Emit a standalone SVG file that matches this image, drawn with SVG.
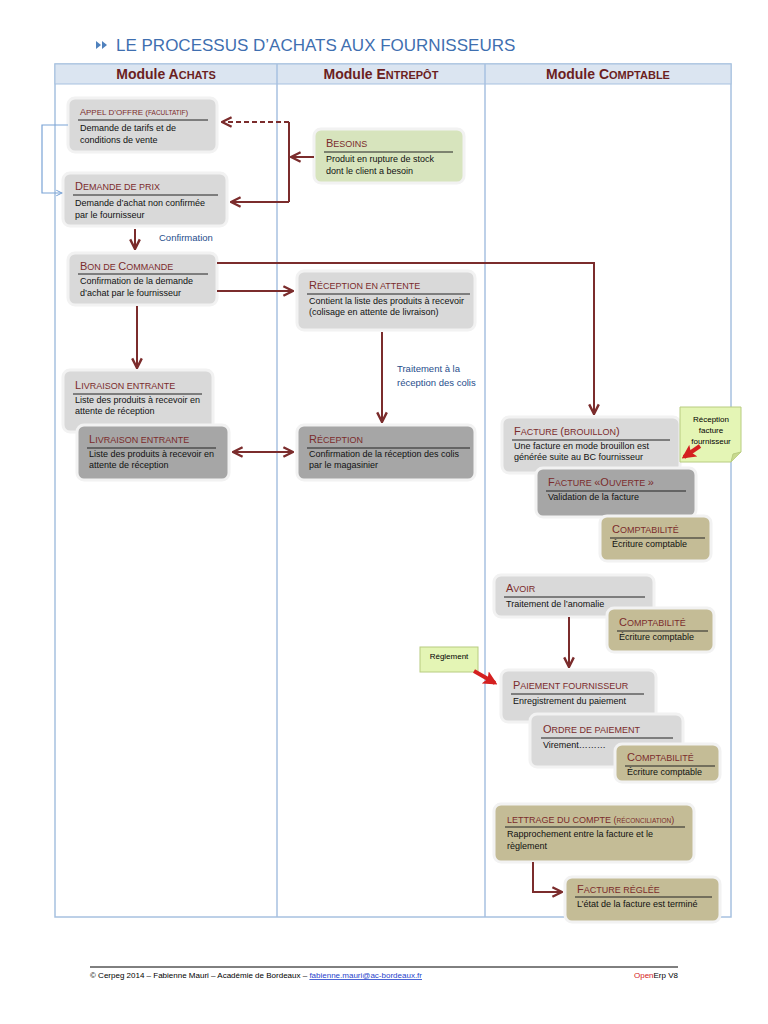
<svg xmlns="http://www.w3.org/2000/svg" width="768" height="1024" viewBox="0 0 768 1024">
<defs>
<style>
text{font-family:"Liberation Sans",Arial,sans-serif}
.box{stroke:#f2f2f2;stroke-width:3}
.lt{fill:#d9d9d9}.dk{fill:#a6a6a6}.gr{fill:#d7e4bd}.tan{fill:#c4bc96}
.t{fill:#7b2c2c;font-size:9px}.t .b{font-size:11px}
.d{font-size:9px;fill:#111}
.ul{stroke:#222;stroke-width:1}
.c{stroke:#7b2c2c;stroke-width:2;fill:none}
.lbl{fill:#1f4e8c;font-size:9.5px}
.hd{font-size:14px;font-weight:bold;fill:#6b1f1f;text-anchor:middle}
</style>
<marker id="a" viewBox="0 0 10 10" refX="9" refY="5" markerWidth="6" markerHeight="6" orient="auto-start-reverse"><path d="M1,1 L9,5 L1,9" fill="none" stroke="#7b2c2c" stroke-width="2"/></marker>
<marker id="ab" viewBox="0 0 10 10" refX="9" refY="5" markerWidth="6" markerHeight="6" orient="auto"><path d="M1,1 L9,5 L1,9" fill="none" stroke="#7aa3d6" stroke-width="1.5"/></marker>
<marker id="ar" viewBox="0 0 10 10" refX="8" refY="5" markerWidth="3.5" markerHeight="3.5" orient="auto"><path d="M0,0 L10,5 L0,10 L2,5 z" fill="#d42020"/></marker>
</defs>
<rect width="768" height="1024" fill="#fff"/>
<g id="title">
<path d="M96,41 l5,4 l-5,4 z M102,41 l5,4 l-5,4 z" fill="#4f81bd"/>
<text x="116" y="51" font-size="17" fill="#3f6fb0">LE PROCESSUS D’ACHATS AUX FOURNISSEURS</text>
</g>
<g id="table">
<rect x="55" y="64" width="676" height="853" fill="none" stroke="#a7c1e0" stroke-width="1.5"/>
<rect x="55" y="64" width="676" height="20" fill="#dbe5f1" stroke="#a7c1e0"/>
<line x1="277" y1="64" x2="277" y2="917" stroke="#a7c1e0" stroke-width="1.5"/>
<line x1="485" y1="64" x2="485" y2="917" stroke="#a7c1e0" stroke-width="1.5"/>
<text class="hd" x="166" y="79">Module A<tspan font-size="11">CHATS</tspan></text>
<text class="hd" x="381" y="79">Module E<tspan font-size="11">NTREPÔT</tspan></text>
<text class="hd" x="608" y="79">Module C<tspan font-size="11">OMPTABLE</tspan></text>
</g>
<g id="n-appel"><rect class="box lt" x="68" y="98" width="149" height="54" rx="7"/>
<text class="t" x="80" y="115">A<tspan font-size="8">PPEL D’OFFRE (</tspan><tspan font-size="6.5">FACULTATIF</tspan><tspan font-size="8">)</tspan></text>
<line class="ul" x1="78" y1="120" x2="208" y2="120"/>
<text class="d" x="80" y="131">Demande de tarifs et de</text><text class="d" x="80" y="143">conditions de vente</text></g>
<g id="n-besoins"><rect class="box gr" x="314" y="129" width="150" height="54" rx="7"/>
<text class="t" x="326" y="147"><tspan class="b">B</tspan>ESOINS</text>
<line class="ul" x1="324" y1="152" x2="453" y2="152"/>
<text class="d" x="326" y="162">Produit en rupture de stock</text><text class="d" x="326" y="174">dont le client a besoin</text></g>
<g id="n-dprix"><rect class="box lt" x="63" y="173" width="164" height="53" rx="7"/>
<text class="t" x="75" y="190"><tspan class="b">D</tspan>EMANDE DE PRIX</text>
<line class="ul" x1="73" y1="195" x2="218" y2="195"/>
<text class="d" x="75" y="206">Demande d’achat non confirmée</text><text class="d" x="75" y="218">par le fournisseur</text></g>
<g id="n-bc"><rect class="box lt" x="68" y="253" width="149" height="52" rx="7"/>
<text class="t" x="80" y="270"><tspan class="b">B</tspan>ON DE <tspan class="b">C</tspan>OMMANDE</text>
<line class="ul" x1="78" y1="274" x2="208" y2="274"/>
<text class="d" x="80" y="284">Confirmation de la demande</text><text class="d" x="80" y="296">d’achat par le fournisseur</text></g>
<g id="n-recatt"><rect class="box lt" x="297" y="271" width="178" height="59" rx="7"/>
<text class="t" x="309" y="289"><tspan class="b">R</tspan>ÉCEPTION EN ATTENTE</text>
<line class="ul" x1="307" y1="294" x2="470" y2="294"/>
<text class="d" x="309" y="304" font-size="8">Contient la liste des produits à recevoir</text><text class="d" x="309" y="315" font-size="8">(colisage en attente de livraison)</text></g>
<g id="n-liv1"><rect class="box lt" x="63" y="370" width="150" height="62" rx="7"/>
<text class="t" x="75" y="389"><tspan class="b">L</tspan>IVRAISON ENTRANTE</text>
<line class="ul" x1="73" y1="394" x2="202" y2="394"/>
<text class="d" x="75" y="403" font-size="8">Liste des produits à recevoir en</text><text class="d" x="75" y="414" font-size="8">attente de réception</text></g>
<g id="n-liv2"><rect class="box dk" x="77" y="425" width="152" height="55" rx="7"/>
<text class="t" x="89" y="443"><tspan class="b">L</tspan>IVRAISON ENTRANTE</text>
<line class="ul" x1="87" y1="448" x2="216" y2="448"/>
<text class="d" x="89" y="457" font-size="8">Liste des produits à recevoir en</text><text class="d" x="89" y="468" font-size="8">attente de réception</text></g>
<g id="n-recep"><rect class="box dk" x="297" y="425" width="178" height="55" rx="7"/>
<text class="t" x="309" y="443"><tspan class="b">R</tspan>ÉCEPTION</text>
<line class="ul" x1="307" y1="448" x2="470" y2="448"/>
<text class="d" x="309" y="457" font-size="8">Confirmation de la réception des colis</text><text class="d" x="309" y="468" font-size="8">par le magasinier</text></g>
<g id="n-fbrouillon"><rect class="box lt" x="502" y="417" width="178" height="56" rx="7"/>
<text class="t" x="514" y="435"><tspan class="b">F</tspan>ACTURE <tspan class="b">(</tspan>BROUILLON<tspan class="b">)</tspan></text>
<line class="ul" x1="512" y1="440" x2="670" y2="440"/>
<text class="d" x="514" y="449" font-size="8">Une facture en mode brouillon est</text><text class="d" x="514" y="460" font-size="8">générée suite au BC fournisseur</text></g>
<g id="n-fouverte"><rect class="box dk" x="536" y="468" width="160" height="49" rx="7"/>
<text class="t" x="548" y="486"><tspan class="b">F</tspan>ACTURE <tspan class="b">«O</tspan>UVERTE <tspan class="b">»</tspan></text>
<line class="ul" x1="546" y1="491" x2="686" y2="491"/>
<text class="d" x="548" y="500" font-size="8">Validation de la facture</text></g>
<g id="n-note1"><path d="M680,407 H741 V452 L731,462 H680 Z" fill="#e4f5b5" stroke="#b8cc80"/><path d="M731,462 L733,454 L741,452" fill="#c8d98f" stroke="#b8cc80"/>
<text x="711" y="422" font-size="8" text-anchor="middle">Réception</text><text x="711" y="433" font-size="8" text-anchor="middle">facture</text><text x="711" y="444" font-size="8" text-anchor="middle">fournisseur</text></g>
<g id="n-compta1"><rect class="box tan" x="600" y="516" width="111" height="45" rx="7"/>
<text class="t" x="612" y="533"><tspan class="b">C</tspan>OMPTABILITÉ</text>
<line class="ul" x1="610" y1="538" x2="705" y2="538"/>
<text class="d" x="612" y="547" font-size="8">Écriture comptable</text></g>
<g id="n-avoir"><rect class="box lt" x="494" y="575" width="160" height="42" rx="7"/>
<text class="t" x="506" y="592"><tspan class="b">A</tspan>VOIR</text>
<line class="ul" x1="504" y1="597" x2="645" y2="597"/>
<text class="d" x="506" y="607">Traitement de l’anomalie</text></g>
<g id="n-compta2"><rect class="box tan" x="607" y="608" width="107" height="44" rx="7"/>
<text class="t" x="619" y="626"><tspan class="b">C</tspan>OMPTABILITÉ</text>
<line class="ul" x1="617" y1="631" x2="708" y2="631"/>
<text class="d" x="619" y="640" font-size="8">Écriture comptable</text></g>
<g id="n-note2"><rect x="420" y="647" width="58" height="25" fill="#e4f5b5" stroke="#b8cc80"/>
<text x="449" y="659" font-size="8" text-anchor="middle">Réglement</text></g>
<g id="n-paiement"><rect class="box lt" x="501" y="670" width="155" height="52" rx="7"/>
<text class="t" x="513" y="689"><tspan class="b">P</tspan>AIEMENT FOURNISSEUR</text>
<line class="ul" x1="511" y1="694" x2="644" y2="694"/>
<text class="d" x="513" y="704">Enregistrement du paiement</text></g>
<g id="n-ordre"><rect class="box lt" x="530" y="714" width="153" height="53" rx="7"/>
<text class="t" x="543" y="733"><tspan class="b">O</tspan>RDRE DE PAIEMENT</text>
<line class="ul" x1="541" y1="738" x2="673" y2="738"/>
<text class="d" x="543" y="748">Virement………</text></g>
<g id="n-compta3"><rect class="box tan" x="615" y="744" width="105" height="38" rx="7"/>
<text class="t" x="627" y="761"><tspan class="b">C</tspan>OMPTABILITÉ</text>
<line class="ul" x1="625" y1="766" x2="715" y2="766"/>
<text class="d" x="627" y="775" font-size="8">Écriture comptable</text></g>
<g id="n-lettrage"><rect class="box tan" x="494" y="804" width="200" height="58" rx="7"/>
<text class="t" x="507" y="823" font-size="8">LETTRAGE DU COMPTE (<tspan font-size="6.5">RÉCONCILIATION</tspan>)</text>
<line class="ul" x1="505" y1="827" x2="685" y2="827"/>
<text class="d" x="507" y="837">Rapprochement entre la facture et le</text><text class="d" x="507" y="849">règlement</text></g>
<g id="n-freglee"><rect class="box tan" x="565" y="877" width="155" height="45" rx="7"/>
<text class="t" x="577" y="893"><tspan class="b">F</tspan>ACTURE RÉGLÉE</text>
<line class="ul" x1="575" y1="897" x2="712" y2="897"/>
<text class="d" x="577" y="907">L’état de la facture est terminé</text></g>
<g id="connectors">
<line class="c" x1="314" y1="157" x2="291" y2="157" marker-end="url(#a)"/>
<line class="c" x1="289" y1="122" x2="289" y2="202"/>
<line class="c" x1="289" y1="122" x2="222" y2="122" stroke-dasharray="5,3" marker-end="url(#a)"/>
<line class="c" x1="289" y1="202" x2="231" y2="202" marker-end="url(#a)"/>
<path d="M68,125 H42 V193 H62" fill="none" stroke="#7aa3d6" stroke-width="1.2" marker-end="url(#ab)"/>
<line class="c" x1="135" y1="229" x2="135" y2="249" marker-end="url(#a)"/>
<text class="lbl" x="159" y="241">Confirmation</text>
<line class="c" x1="217" y1="291" x2="293" y2="291" marker-end="url(#a)"/>
<path class="c" d="M217,263 H594 V414" marker-end="url(#a)"/>
<line class="c" x1="137" y1="306" x2="137" y2="368" marker-end="url(#a)"/>
<line class="c" x1="382" y1="332" x2="382" y2="422" marker-end="url(#a)"/>
<text class="lbl" x="397" y="372">Traitement à la</text>
<text class="lbl" x="397" y="386">réception des colis</text>
<line class="c" x1="233" y1="452" x2="293" y2="452" marker-start="url(#a)" marker-end="url(#a)"/>
<line x1="700" y1="446" x2="684" y2="457" stroke="#d42020" stroke-width="4" marker-end="url(#ar)"/>
<line class="c" x1="569" y1="617" x2="569" y2="667" marker-end="url(#a)"/>
<line x1="474" y1="671" x2="495" y2="683" stroke="#d42020" stroke-width="4" marker-end="url(#ar)"/>
<path class="c" d="M533,862 V892 H562" marker-end="url(#a)"/>
</g>
<g id="footer">
<line x1="90" y1="967" x2="678" y2="967" stroke="#000" stroke-width="1"/>
<text x="90" y="978" font-size="8">© Cerpeg 2014 – Fabienne Mauri – Académie de Bordeaux – <tspan fill="#1f3fcc" text-decoration="underline">fabienne.mauri@ac-bordeaux.fr</tspan></text>
<text x="678" y="978" font-size="8" text-anchor="end"><tspan fill="#d42020">Open</tspan>Erp V8</text>
</g>
</svg>
